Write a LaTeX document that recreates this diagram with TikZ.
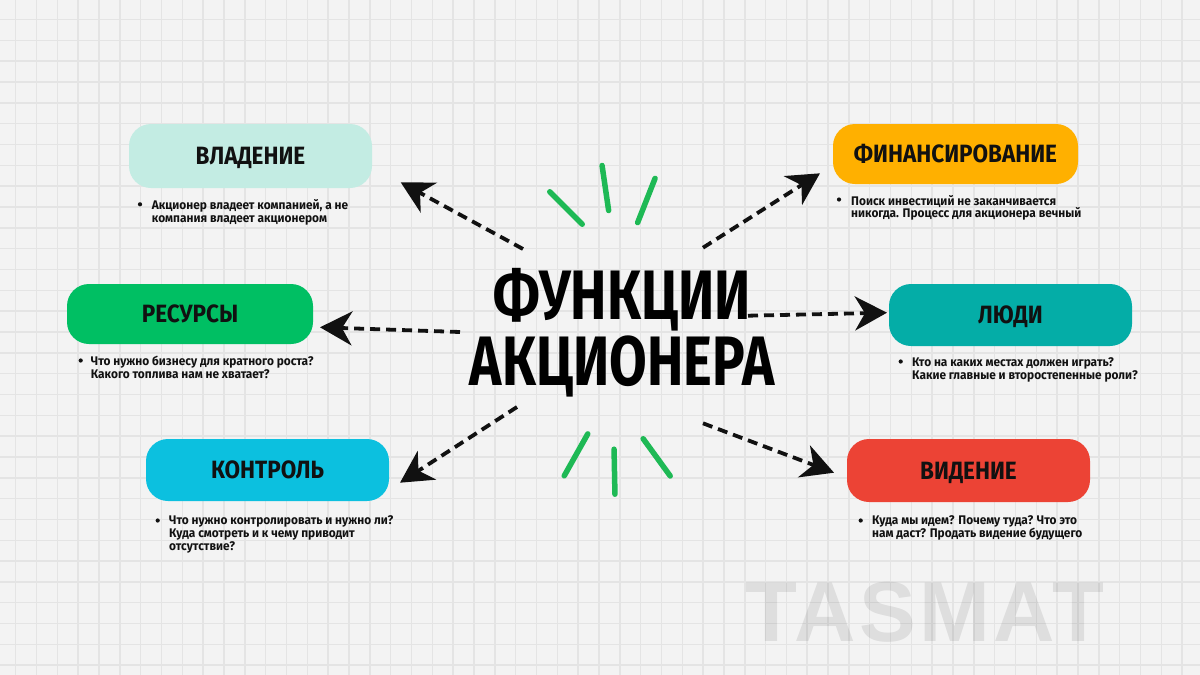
\documentclass[tikz,border=0pt]{standalone}
\usepackage{fontspec}
\setmainfont{Fira Sans}
\newfontfamily\titlefnt{Fira Sans}[FakeStretch=0.78]
\newfontfamily\headfnt{Fira Sans}[FakeStretch=0.9]
\newfontfamily\bodyfnt{Fira Sans}[FakeStretch=0.95]
\newfontfamily\wmfnt{Liberation Sans}[LetterSpace=4]
\usetikzlibrary{arrows.meta}
\definecolor{bgc}{HTML}{F3F3F3}
\definecolor{gridc}{HTML}{E4E4E4}
\definecolor{mintc}{HTML}{C3ECE3}
\definecolor{greenc}{HTML}{00BF63}
\definecolor{cyanc}{HTML}{0CC0DF}
\definecolor{orangec}{HTML}{FFB000}
\definecolor{tealc}{HTML}{04ADA7}
\definecolor{redc}{HTML}{EC4335}
\definecolor{rayc}{HTML}{1EB955}
\definecolor{inkc}{HTML}{111111}
\tikzset{
  box/.style={rounded corners=22pt, inner sep=0pt, text=inkc,
    font=\headfnt\bfseries\fontsize{25}{25}\selectfont, text height=17pt, text depth=0pt},
  body/.style={anchor=north west, inner sep=0pt, align=left, text=inkc,
    font=\bodyfnt\bfseries\fontsize{12.5}{12.7}\selectfont},
  dot/.style={circle, fill=inkc, inner sep=0pt, minimum size=4.2pt},
  arr/.style={draw=inkc, line width=3.8pt, dash pattern=on 10pt off 6pt, line cap=butt,
    -{Stealth[length=32pt,width=34pt,inset=10pt]}},
  ray/.style={draw=rayc, line width=5.5pt, line cap=round, shorten <=2.5pt, shorten >=2.5pt}
}
\begin{document}
\begin{tikzpicture}[x=1pt,y=-1pt]
\fill[bgc] (0,0) rectangle (1200,675);
\useasboundingbox (0,0) rectangle (1200,675);
\foreach \i in {0,...,57} {\draw[gridc, line width=1.5pt] ({15.7+20.83*\i},0) -- ({15.7+20.83*\i},675);}
\foreach \j in {0,...,31} {\draw[gridc, line width=1.5pt] (0,{19.5+20.83*\j}) -- (1200,{19.5+20.83*\j});}

% watermark
\node[font=\wmfnt\bfseries\fontsize{85}{85}\selectfont, text=black, text opacity=0.085, inner sep=0pt] (wm) at (925,612) {TASMAT};

% central title
\node[anchor=north, inner sep=0pt, align=center, text=black,
  font=\titlefnt\bfseries\fontsize{70}{66}\selectfont] (title) at (622,268) {ФУНКЦИИ\\АКЦИОНЕРА};

% rays
\draw[ray] (548,190) -- (584,226);
\draw[ray] (601.7,163) -- (609,213);
\draw[ray] (656,176) -- (636.7,225);
\draw[ray] (589,431.7) -- (563,478);
\draw[ray] (614,446.7) -- (615,496.7);
\draw[ray] (641.7,436.7) -- (671.7,478);

% boxes
\node[box, fill=mintc, minimum width=243pt, minimum height=64pt] (own) at (250.5,156) {ВЛАДЕНИЕ};
\node[box, fill=greenc, minimum width=246pt, minimum height=60pt] (res) at (190,314) {РЕСУРСЫ};
\node[box, fill=cyanc, minimum width=243pt, minimum height=62pt] (ctl) at (267.5,470) {КОНТРОЛЬ};
\node[box, fill=orangec, minimum width=245pt, minimum height=60pt] (fin) at (955.5,154) {ФИНАНСИРОВАНИЕ};
\node[box, fill=tealc, minimum width=243pt, minimum height=62pt] (ppl) at (1010.5,315) {ЛЮДИ};
\node[box, fill=redc, minimum width=243pt, minimum height=63pt] (vis) at (968.5,470.5) {ВИДЕНИЕ};

% bullets and texts
\node[dot] (b1) at (140,204.3) {};
\node[body] (t1) at (151.7,199.3) {Акционер владеет компанией, а не\\компания владеет акционером};
\node[dot] (b2) at (80.7,360.5) {};
\node[body] (t2) at (90.7,356) {Что нужно бизнесу для кратного роста?\\Какого топлива нам не хватает?};
\node[dot] (b3) at (157.7,520.5) {};
\node[body] (t3) at (169,515.7) {Что нужно контролировать и нужно ли?\\Куда смотреть и к чему приводит\\отсутствие?};
\node[dot] (b4) at (839,199.5) {};
\node[body] (t4) at (851,195) {Поиск инвестиций не заканчивается\\никогда. Процесс для акционера вечный};
\node[dot] (b5) at (900.7,361.5) {};
\node[body] (t5) at (912,357.3) {Кто на каких местах должен играть?\\Какие главные и второстепенные роли?};
\node[dot] (b6) at (860.7,520.5) {};
\node[body] (t6) at (872,515.7) {Куда мы идем? Почему туда? Что это\\нам даст? Продать видение будущего};

% arrows
\coordinate (s1) at (523,249);   \coordinate (e1) at (400.7,182.3);
\coordinate (s2) at (460,332);   \coordinate (e2) at (320,327.3);
\coordinate (s3) at (517,407);   \coordinate (e3) at (400,482.7);
\coordinate (s4) at (703,247.7); \coordinate (e4) at (820,173.3);
\coordinate (s5) at (748,315.7); \coordinate (e5) at (887,312.7);
\coordinate (s6) at (703,423.3); \coordinate (e6) at (834,472.7);
\draw[arr] (s1) -- (e1);
\draw[arr] (s2) -- (e2);
\draw[arr] (s3) -- (e3);
\draw[arr] (s4) -- (e4);
\draw[arr] (s5) -- (e5);
\draw[arr] (s6) -- (e6);
\end{tikzpicture}
\end{document}
